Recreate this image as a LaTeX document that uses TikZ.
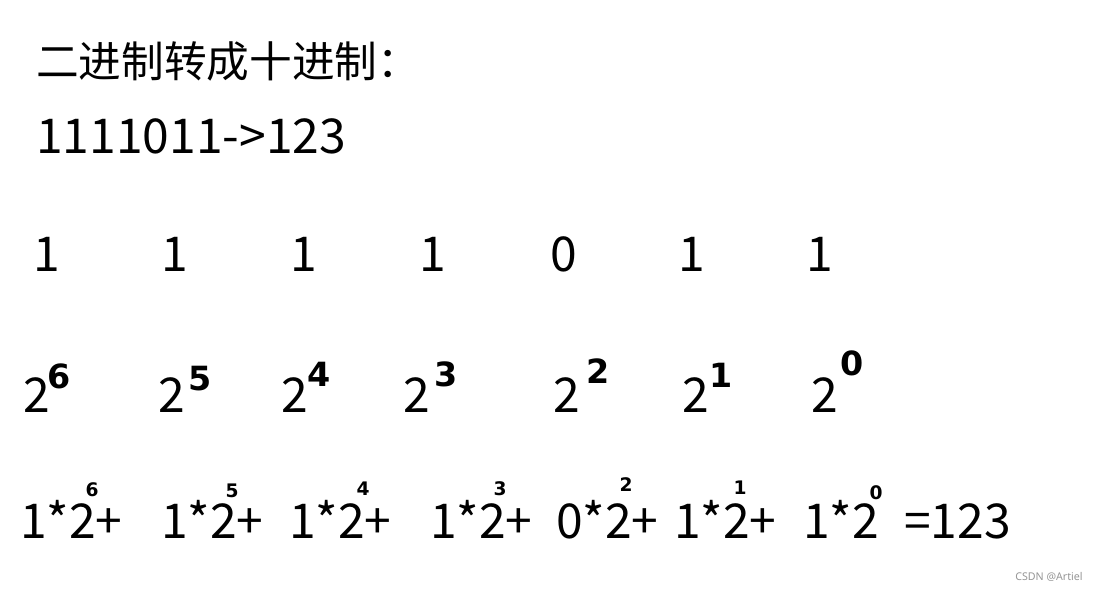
\documentclass[tikz,border=0pt]{standalone}
\usepackage{fontspec}
\newfontfamily\cjk{Noto Sans CJK SC}
\newfontfamily\hand{DejaVu Sans}
\definecolor{wm}{RGB}{150,150,150}
\tikzset{
  ttl/.style={inner sep=0pt, font=\cjk\fontsize{32}{40}\selectfont},
  txt/.style={inner sep=0pt, text height=26pt, text depth=0pt, font=\cjk\fontsize{36}{42}\selectfont},
  sup/.style={inner sep=0pt, anchor=base, text height=19pt, text depth=0pt, font=\hand\bfseries\fontsize{25}{28}\selectfont},
  ssup/.style={inner sep=0pt, anchor=base, text height=10pt, text depth=0pt, font=\hand\bfseries\fontsize{14}{16}\selectfont},
}
\begin{document}
\begin{tikzpicture}[x=0.75pt,y=-0.75pt]
\useasboundingbox[fill=white] (0,0) rectangle (1097,590);
% title
\node[ttl, anchor=base west] (title) at (36,77) {二进制转成十进制：};
\node[txt, anchor=base west] (conv) at (36,153) {1111011->123};
% binary digits
\foreach \x/\d [count=\i] in {47/1,175/1,304/1,433/1,564/0,692/1,820/1}
  \node[txt, anchor=base] (b\i) at (\x,271) {\d};
% powers of two
\foreach \x/\e/\ex/\ey [count=\i] in {37/6/59/388,172/5/200/390,295/4/319/386,417/3/446/386,567/2/598/383,696/1/721/387,825/0/852/375}{
  \node[txt, anchor=base] (p\i) at (\x,412) {2};
  \node[sup] (pe\i) at (\ex,\ey) {\e};
}
% products
\foreach \x/\t/\e/\ex/\ey [count=\i] in {20/1*2+/6/92/496,161/1*2+/5/232/497,289/1*2+/4/363/495,430/1*2+/3/500/495,556/0*2+/2/626/491,674/1*2+/1/740/494,803/1*2/0/876/499}{
  \node[txt, anchor=base west] (m\i) at (\x,538) {\t};
  \node[ssup] (me\i) at (\ex,\ey) {\e};
}
\node[txt, anchor=base west] (res) at (904,538) {=123};
\node[inner sep=0pt, anchor=base east, text=wm, font=\fontspec{Noto Sans}\fontsize{8}{9}\selectfont] (wmk) at (1083,580) {CSDN @Artiel};
\end{tikzpicture}
\end{document}
